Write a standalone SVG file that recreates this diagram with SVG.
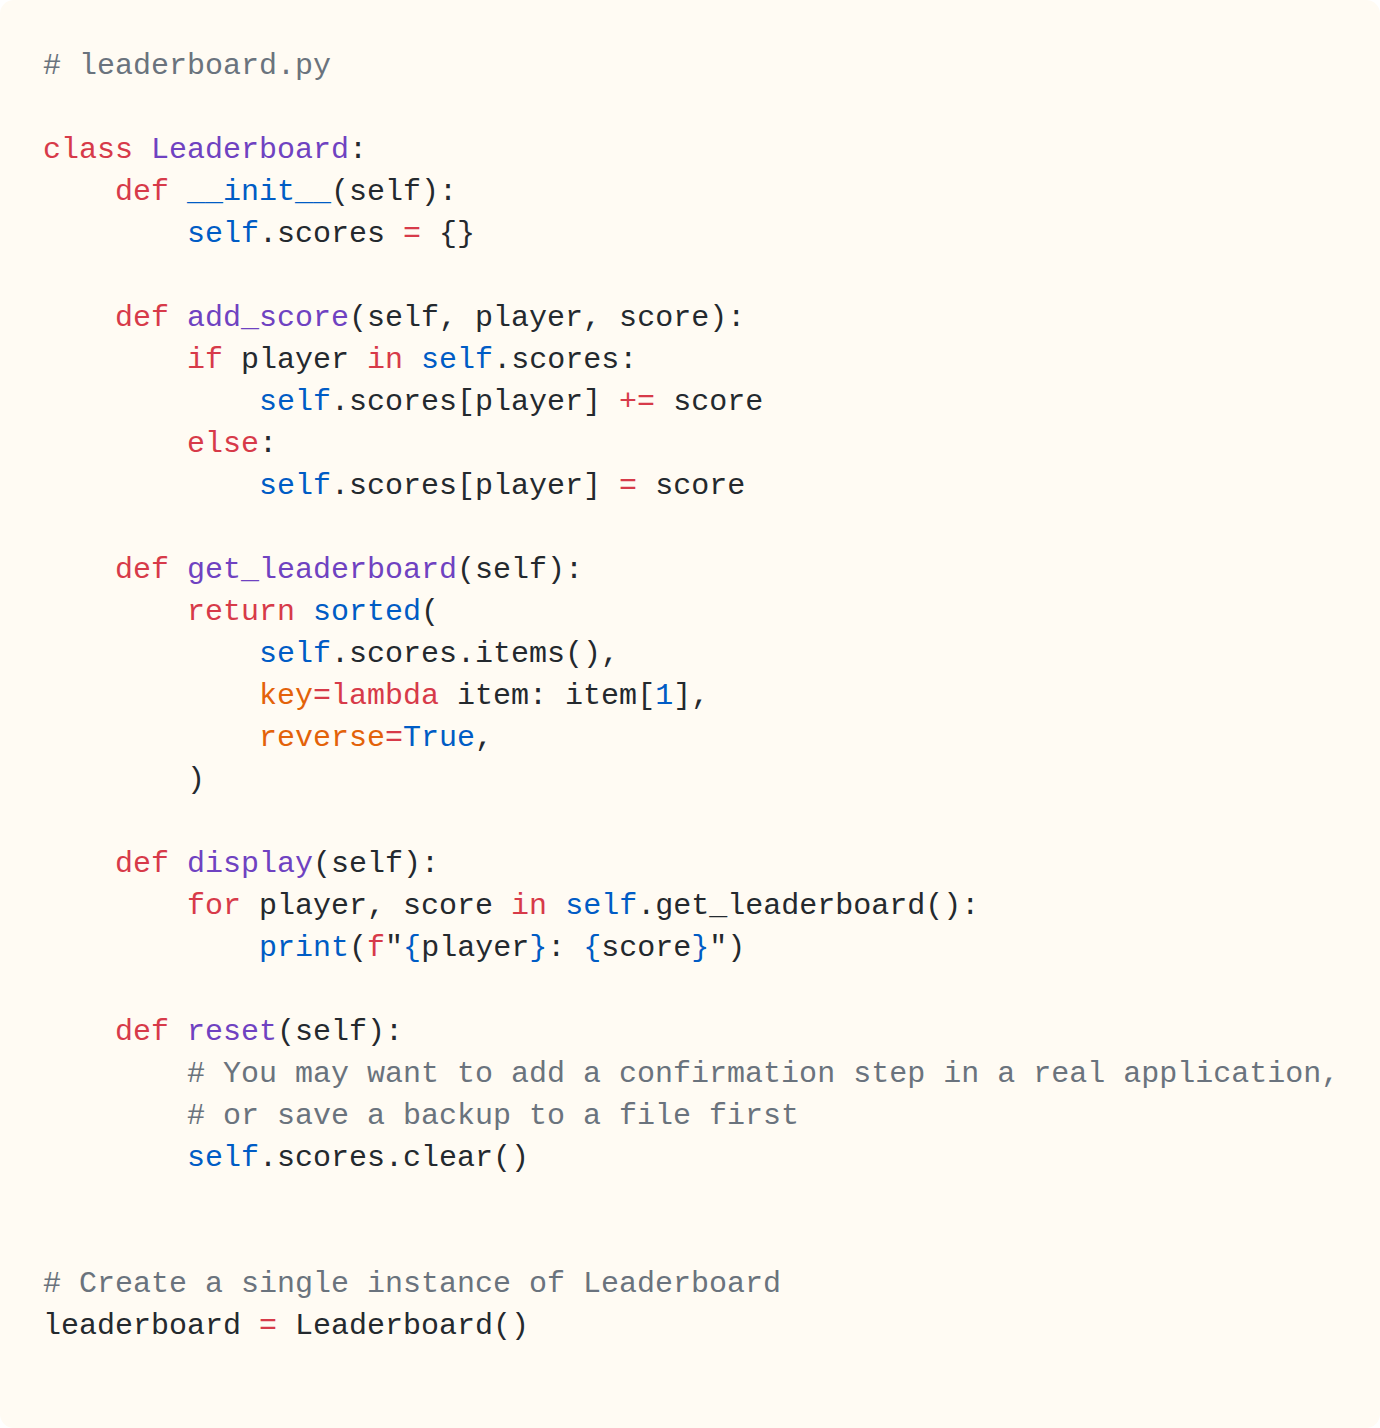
<svg xmlns="http://www.w3.org/2000/svg" width="1380" height="1428" viewBox="0 0 1380 1428">
<style>
text{font-family:"Liberation Mono","DejaVu Sans Mono",monospace;font-size:30px;fill:#24292e;white-space:pre}
.c{fill:#6a737d}.k{fill:#d73a49}.p{fill:#6f42c1}.b{fill:#005cc5}.o{fill:#e36209}
</style>
<rect x="0" y="0" width="1380" height="1428" rx="14" fill="#fffbf3"/>
<g id="code" xml:space="preserve">
<text x="43" y="74" class="c"># leaderboard.py</text>
<text x="43" y="158"><tspan class="k">class</tspan> <tspan class="p">Leaderboard</tspan>:</text>
<text x="43" y="200">    <tspan class="k">def</tspan> <tspan class="b">__init__</tspan>(self):</text>
<text x="43" y="242">        <tspan class="b">self</tspan>.scores <tspan class="k">=</tspan> {}</text>
<text x="43" y="326">    <tspan class="k">def</tspan> <tspan class="p">add_score</tspan>(self, player, score):</text>
<text x="43" y="368">        <tspan class="k">if</tspan> player <tspan class="k">in</tspan> <tspan class="b">self</tspan>.scores:</text>
<text x="43" y="410">            <tspan class="b">self</tspan>.scores[player] <tspan class="k">+=</tspan> score</text>
<text x="43" y="452">        <tspan class="k">else</tspan>:</text>
<text x="43" y="494">            <tspan class="b">self</tspan>.scores[player] <tspan class="k">=</tspan> score</text>
<text x="43" y="578">    <tspan class="k">def</tspan> <tspan class="p">get_leaderboard</tspan>(self):</text>
<text x="43" y="620">        <tspan class="k">return</tspan> <tspan class="b">sorted</tspan>(</text>
<text x="43" y="662">            <tspan class="b">self</tspan>.scores.items(),</text>
<text x="43" y="704">            <tspan class="o">key</tspan><tspan class="k">=lambda</tspan> item: item[<tspan class="b">1</tspan>],</text>
<text x="43" y="746">            <tspan class="o">reverse</tspan><tspan class="k">=</tspan><tspan class="b">True</tspan>,</text>
<text x="43" y="788">        )</text>
<text x="43" y="872">    <tspan class="k">def</tspan> <tspan class="p">display</tspan>(self):</text>
<text x="43" y="914">        <tspan class="k">for</tspan> player, score <tspan class="k">in</tspan> <tspan class="b">self</tspan>.get_leaderboard():</text>
<text x="43" y="956">            <tspan class="b">print</tspan>(<tspan class="k">f</tspan>"<tspan class="b">{</tspan>player<tspan class="b">}</tspan>: <tspan class="b">{</tspan>score<tspan class="b">}</tspan>")</text>
<text x="43" y="1040">    <tspan class="k">def</tspan> <tspan class="p">reset</tspan>(self):</text>
<text x="43" y="1082" class="c">        # You may want to add a confirmation step in a real application,</text>
<text x="43" y="1124" class="c">        # or save a backup to a file first</text>
<text x="43" y="1166">        <tspan class="b">self</tspan>.scores.clear()</text>
<text x="43" y="1292" class="c"># Create a single instance of Leaderboard</text>
<text x="43" y="1334">leaderboard <tspan class="k">=</tspan> Leaderboard()</text>
</g>
</svg>
